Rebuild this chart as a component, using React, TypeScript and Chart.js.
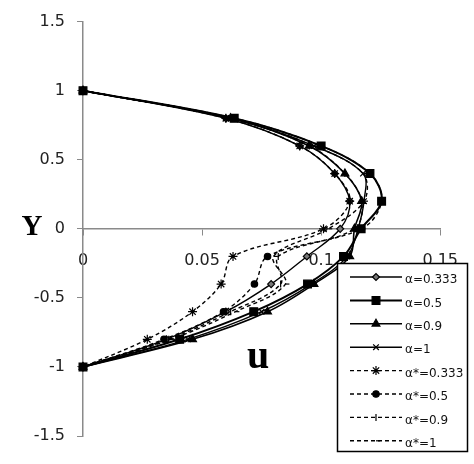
import React, { useEffect, useRef } from "react";
import { Chart, registerables } from "chart.js";
import { drawPoint } from "chart.js/helpers";

Chart.register(...registerables);

// ---- data ----
const yLevels = [1, 0.8, 0.6, 0.4, 0.2, 0, -0.2, -0.4, -0.6, -0.8, -1];

const alpha0333 = [0, 0.06, 0.091, 0.1057, 0.112, 0.108, 0.094, 0.079, 0.06, 0.035, 0];
const alpha05 = [0, 0.0635, 0.1, 0.1205, 0.1254, 0.1168, 0.1094, 0.0943, 0.0717, 0.0406, 0];
const alpha09 = [0, 0.062, 0.095, 0.11, 0.117, 0.114, 0.112, 0.097, 0.0775, 0.046, 0];
const alpha1 = [0, 0.062, 0.097, 0.1176, 0.118, 0.1155, 0.111, 0.096, 0.075, 0.044, 0];
const alphaS0333 = [0, 0.06, 0.091, 0.1057, 0.112, 0.101, 0.063, 0.058, 0.046, 0.027, 0];
const alphaS05 = [0, 0.0635, 0.1, 0.1205, 0.1254, 0.117, 0.0775, 0.072, 0.059, 0.034, 0];
const alphaS09 = [0, 0.062, 0.095, 0.11, 0.117, 0.114, 0.082, 0.083, 0.062, 0.036, 0];
const alphaS1 = [0, 0.062, 0.097, 0.1176, 0.118, 0.103, 0.08, 0.085, 0.064, 0.037, 0];

const seriesLabels = [
  "α=0.333",
  "α=0.5",
  "α=0.9",
  "α=1",
  "α*=0.333",
  "α*=0.5",
  "α*=0.9",
  "α*=1",
];
const seriesValues = [alpha0333, alpha05, alpha09, alpha1, alphaS0333, alphaS05, alphaS09, alphaS1];

const xTicksMin = 0;
const xTicksMax = 0.15;
const xStep = 0.05;
const yTicksMin = -1.5;
const yTicksMax = 1.5;
const yStep = 0.5;

const yTitle = "Y";
const xTitle = "u";

// ---- styles ----
const markerStyles: any[] = [
  { pointStyle: "rectRot", radius: 3.5, fill: "#777", rotation: 0 },
  { pointStyle: "rect", radius: 5.5, fill: "#000", rotation: 0 },
  { pointStyle: "triangle", radius: 4.5, fill: "#000", rotation: 0 },
  { pointStyle: "crossRot", radius: 4, fill: "#000", rotation: 0 },
  { pointStyle: "star", radius: 4.5, fill: "#000", rotation: 0 },
  { pointStyle: "circle", radius: 3.2, fill: "#000", rotation: 0 },
  { pointStyle: "line", radius: 3.5, fill: "#000", rotation: 90 },
  { pointStyle: "dash", radius: 4, fill: "#000", rotation: 0 },
];
const dashed = [false, false, false, false, true, true, true, true];
const widths = [1.4, 2, 1.6, 1.4, 1.4, 1.4, 1.4, 1.4];

const axisGray = "#8a8a8a";

const legendPlugin = {
  id: "boxLegend",
  afterDraw(chart: any) {
    const ctx = chart.ctx as CanvasRenderingContext2D;
    ctx.save();
    // box
    ctx.fillStyle = "#fff";
    ctx.fillRect(337, 263, 131, 189);
    ctx.strokeStyle = "#000";
    ctx.lineWidth = 1.5;
    ctx.strokeRect(337.5, 263.5, 130, 188);
    chart.data.datasets.forEach((ds: any, i: number) => {
      const y = 277 + i * 23.4;
      ctx.save();
      ctx.strokeStyle = "#000";
      ctx.lineWidth = ds.borderWidth;
      ctx.setLineDash(ds.borderDash || []);
      ctx.beginPath();
      ctx.moveTo(350, y);
      ctx.lineTo(402, y);
      ctx.stroke();
      ctx.restore();
      ctx.save();
      ctx.fillStyle = ds.pointBackgroundColor;
      ctx.strokeStyle = "#000";
      ctx.lineWidth = 1.2;
      ctx.setLineDash([]);
      drawPoint(ctx, { pointStyle: ds.pointStyle, rotation: ds.pointRotation, radius: ds.pointRadius, borderWidth: 1.2 } as any, 376, y);
      ctx.restore();
      ctx.fillStyle = "#111";
      ctx.font = "12px 'DejaVu Sans'";
      ctx.textAlign = "left";
      ctx.textBaseline = "middle";
      ctx.fillText(ds.label, 405, y + 3);
    });
    ctx.restore();
  },
};

const titlePlugin = {
  id: "axisTitles",
  afterDraw(chart: any) {
    const ctx = chart.ctx as CanvasRenderingContext2D;
    ctx.save();
    ctx.fillStyle = "#000";
    ctx.textAlign = "center";
    ctx.textBaseline = "middle";
    ctx.font = "bold 29px 'Liberation Serif'";
    ctx.fillText(yTitle, 32, 228);
    ctx.font = "bold 40px 'Liberation Serif'";
    ctx.fillText(xTitle, 258, 358);
    ctx.restore();
  },
};

export default function App() {
  const ref = useRef<HTMLCanvasElement | null>(null);
  useEffect(() => {
    if (!ref.current) return;
    const datasets = seriesValues.map((vals, i) => ({
      label: seriesLabels[i],
      data: vals.map((u, k) => ({ x: u, y: yLevels[k] })),
      showLine: true,
      borderColor: "#000",
      borderWidth: widths[i],
      borderDash: dashed[i] ? [4, 3] : [],
      tension: 0.35,
      pointStyle: markerStyles[i].pointStyle,
      pointRadius: markerStyles[i].radius,
      pointRotation: markerStyles[i].rotation,
      pointBackgroundColor: markerStyles[i].fill,
      pointBorderColor: "#000",
      pointBorderWidth: 1.2,
      clip: false as any,
      order: 8 - i,
    }));
    const chart = new Chart(ref.current, {
      type: "scatter",
      data: { datasets },
      options: {
        animation: false,
        responsive: false,
        maintainAspectRatio: false,
        layout: { padding: { left: 0, right: 25, top: 16, bottom: 28 } },
        plugins: {
          legend: { display: false },
          tooltip: { enabled: false },
        },
        scales: {
          x: {
            type: "linear",
            position: { y: 0 } as any,
            min: xTicksMin,
            max: xTicksMax,
            afterFit: (s: any) => {
              s.height = 0;
            },
            ticks: {
              stepSize: xStep,
              padding: 16,
              color: "#222",
              font: { family: "'DejaVu Sans'", size: 16 },
              maxRotation: 0,
              callback: (v: any) => String(Number(Number(v).toFixed(3))),
            },
            grid: { display: true, drawOnChartArea: false, drawTicks: true, tickLength: 6, color: axisGray },
            border: { display: true, color: axisGray, width: 1.5 },
          },
          y: {
            type: "linear",
            position: "left",
            min: yTicksMin,
            max: yTicksMax,
            afterFit: (s: any) => {
              s.width = 83;
            },
            ticks: {
              stepSize: yStep,
              padding: 12,
              color: "#222",
              font: { family: "'DejaVu Sans'", size: 16 },
              callback: (v: any) => String(Number(Number(v).toFixed(2))),
            },
            grid: { display: true, drawOnChartArea: false, drawTicks: true, tickLength: 6, color: axisGray },
            border: { display: true, color: axisGray, width: 1.5 },
          },
        },
      },
      plugins: [titlePlugin, legendPlugin],
    });
    return () => chart.destroy();
  }, []);
  return (
    <div style={{ position: "fixed", left: 0, top: 0, width: 474, height: 464, background: "#fff" }}>
      <canvas ref={ref} width={474} height={464} style={{ width: 474, height: 464, display: "block" }} />
    </div>
  );
}
